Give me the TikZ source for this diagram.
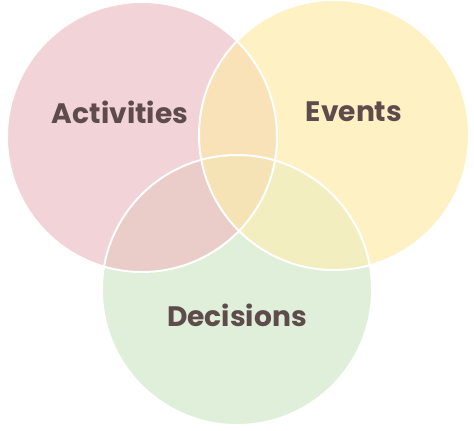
\documentclass[tikz,border=0pt]{standalone}
\usepackage{fontspec}
\newfontfamily\vennfont{Poppins}
\definecolor{actfill}{HTML}{F2D3D8}
\definecolor{evtfill}{HTML}{FEF1C3}
\definecolor{decfill}{HTML}{DFEFD9}
\definecolor{actevt}{HTML}{FAE2B8}
\definecolor{actdec}{HTML}{EACCC9}
\definecolor{evtdec}{HTML}{F3EEC0}
\definecolor{allthree}{HTML}{F6E3B5}
\definecolor{labeltext}{HTML}{5E4B4B}
\begin{document}
\begin{tikzpicture}[x=0.025cm, y=-0.025cm,
  ring/.style={draw=white, line width=1.4pt},
  vennlabel/.style={text=labeltext, font=\vennfont\bfseries\fontsize{20}{24}\selectfont}]
\useasboundingbox (0,0) rectangle (474,430);

% Mittelpunkte
\coordinate (A) at (142,137);
\coordinate (E) at (334,135);
\coordinate (D) at (237,290);
\def\rad{135}

% Kreise
\fill[actfill] (A) circle (\rad);
\fill[evtfill] (E) circle (\rad);
\fill[decfill] (D) circle (\rad);

% Schnittflaechen
\begin{scope}
  \clip (A) circle (\rad);
  \fill[actevt] (E) circle (\rad);
  \fill[actdec] (D) circle (\rad);
\end{scope}
\begin{scope}
  \clip (E) circle (\rad);
  \fill[evtdec] (D) circle (\rad);
  \clip (D) circle (\rad);
  \fill[allthree] (A) circle (\rad);
\end{scope}

% Raender
\draw[ring] (A) circle (\rad);
\draw[ring] (E) circle (\rad);
\draw[ring] (D) circle (\rad);

% Beschriftungen
\node[vennlabel] (act) at (120,112) {Activities};
\node[vennlabel] (evt) at (354,112) {Events};
\node[vennlabel] (dec) at (237,315) {Decisions};

\end{tikzpicture}
\end{document}
